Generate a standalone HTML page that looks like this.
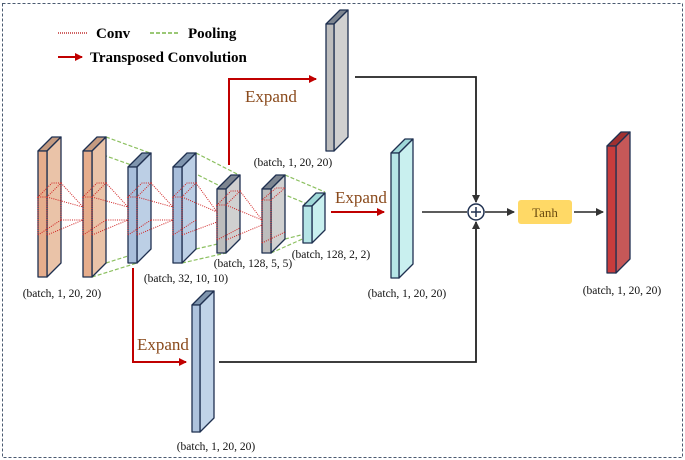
<!DOCTYPE html>
<html><head><meta charset="utf-8"><style>
body{margin:0;background:#fff;}
svg{display:block;font-family:"Liberation Serif",serif;}
</style></head><body>
<svg width="685" height="460" viewBox="0 0 685 460" xmlns="http://www.w3.org/2000/svg">
<defs>
<marker id="ar" markerWidth="8" markerHeight="8" refX="7" refY="4" orient="auto" markerUnits="userSpaceOnUse"><path d="M0,0 L8,4 L0,8 z" fill="#c00000"/></marker>
<marker id="ak" markerWidth="8" markerHeight="8" refX="7" refY="4" orient="auto" markerUnits="userSpaceOnUse"><path d="M0,0 L8,4 L0,8 z" fill="#333"/></marker>
</defs>
<rect x="2.5" y="3.5" width="680" height="454" fill="none" stroke="#4a5a70" stroke-width="1" stroke-dasharray="3,2"/>

<!-- legend -->
<line x1="58" y1="33" x2="88" y2="33" stroke="#c03030" stroke-width="1.5" stroke-dasharray="1,1"/>
<text x="96" y="38" font-size="15" font-weight="bold">Conv</text>
<line x1="150" y1="33" x2="180" y2="33" stroke="#7ab648" stroke-width="1.5" stroke-dasharray="4,2"/>
<text x="188" y="38" font-size="15" font-weight="bold">Pooling</text>
<line x1="58" y1="57" x2="82" y2="57" stroke="#c00000" stroke-width="2" marker-end="url(#ar)"/>
<text x="90" y="62" font-size="15" font-weight="bold">Transposed Convolution</text>

<!-- pooling dashed -->
<g stroke="#8cc060" stroke-width="1.2" stroke-dasharray="4,2" fill="none">
<line x1="106" y1="137" x2="150" y2="153"/><line x1="92" y1="151" x2="137" y2="167"/>
<line x1="92" y1="277" x2="137" y2="263"/><line x1="106" y1="263" x2="150" y2="249"/>
<line x1="196" y1="153" x2="239" y2="175"/><line x1="182" y1="167" x2="226" y2="189"/>
<line x1="182" y1="263" x2="226" y2="253"/><line x1="196" y1="249" x2="239" y2="239"/>
<line x1="285" y1="175" x2="325" y2="192"/><line x1="271" y1="189" x2="312" y2="206"/>
<line x1="271" y1="253" x2="325" y2="229"/><line x1="285" y1="239" x2="325" y2="229"/>
</g>

<!-- boxes -->
<g stroke="#1f3050" stroke-width="1.3" stroke-linejoin="round">
<!-- orange 1 -->
<polygon points="38,151 52,137 61,137 47,151" fill="#c49a80"/>
<polygon points="47,151 61,137 61,263 47,277" fill="#eac3a8"/>
<rect x="38" y="151" width="9" height="126" fill="#e6ad8c"/>
<!-- orange 2 -->
<polygon points="83,151 97,137 106,137 92,151" fill="#c49a80"/>
<polygon points="92,151 106,137 106,263 92,277" fill="#eac3a8"/>
<rect x="83" y="151" width="9" height="126" fill="#e6ad8c"/>
<!-- blue 1 -->
<polygon points="128,167 142,153 151,153 137,167" fill="#7f95ae"/>
<polygon points="137,167 151,153 151,249 137,263" fill="#bccfe5"/>
<rect x="128" y="167" width="9" height="96" fill="#a8bedb"/>
<!-- blue 2 -->
<polygon points="173,167 187,153 196,153 182,167" fill="#7f95ae"/>
<polygon points="182,167 196,153 196,249 182,263" fill="#bccfe5"/>
<rect x="173" y="167" width="9" height="96" fill="#a8bedb"/>
<!-- gray 1 -->
<polygon points="217,189 231,175 240,175 226,189" fill="#7d8590"/>
<polygon points="226,189 240,175 240,239 226,253" fill="#d0d0d0"/>
<rect x="217" y="189" width="9" height="64" fill="#bdbdbd"/>
<!-- gray 2 -->
<polygon points="262,189 276,175 285,175 271,189" fill="#7d8590"/>
<polygon points="271,189 285,175 285,239 271,253" fill="#d0d0d0"/>
<rect x="262" y="189" width="9" height="64" fill="#bdbdbd"/>
<!-- cyan small -->
<polygon points="303,206 316,193 325,193 312,206" fill="#9fd8d8"/>
<polygon points="312,206 325,193 325,230 312,243" fill="#c9f0ef"/>
<rect x="303" y="206" width="9" height="37" fill="#b5e5e6"/>
<!-- gray tall -->
<polygon points="326,24 340,10 348,10 334,24" fill="#7d8590"/>
<polygon points="334,24 348,10 348,137 334,151" fill="#d0d0d0"/>
<rect x="326" y="24" width="8" height="127" fill="#bdbdbd"/>
<!-- cyan tall -->
<polygon points="391,153 405,139 413,139 399,153" fill="#9fd8d8"/>
<polygon points="399,153 413,139 413,264 399,278" fill="#c9f0ef"/>
<rect x="391" y="153" width="8" height="125" fill="#b5e5e6"/>
<!-- red -->
<polygon points="607,146 621,132 630,132 616,146" fill="#a03030"/>
<polygon points="616,146 630,132 630,259 616,273" fill="#c65858"/>
<rect x="607" y="146" width="9" height="127" fill="#c83c3c"/>
<!-- blue bottom -->
<polygon points="192,305 206,291 214,291 200,305" fill="#7f95ae"/>
<polygon points="200,305 214,291 214,418 200,432" fill="#c0d3e8"/>
<rect x="192" y="305" width="8" height="127" fill="#aec3dd"/>
</g>

<!-- conv dotted -->
<g stroke="#d02020" stroke-width="1" stroke-dasharray="1,1.2" fill="none">
<polygon points="38,197 47,197 61,183 52,183"/><line x1="38" y1="197" x2="38" y2="235"/><line x1="47" y1="197" x2="47" y2="235"/><line x1="61" y1="183" x2="61" y2="220"/><line x1="38" y1="235" x2="61" y2="220"/>
<line x1="47" y1="197" x2="83" y2="207"/><line x1="61" y1="183" x2="83" y2="207"/><line x1="47" y1="235" x2="83" y2="220"/><line x1="61" y1="220" x2="83" y2="220"/>
<polygon points="83,197 92,197 106,183 97,183"/><line x1="83" y1="197" x2="83" y2="235"/><line x1="92" y1="197" x2="92" y2="235"/><line x1="83" y1="235" x2="106" y2="220"/>
<line x1="92" y1="197" x2="128" y2="207"/><line x1="106" y1="183" x2="128" y2="207"/><line x1="92" y1="235" x2="128" y2="220"/><line x1="106" y1="220" x2="128" y2="220"/>
<polygon points="128,197 137,197 151,183 142,183"/><line x1="128" y1="197" x2="128" y2="235"/><line x1="137" y1="197" x2="137" y2="235"/><line x1="128" y1="235" x2="151" y2="220"/>
<line x1="137" y1="197" x2="173" y2="207"/><line x1="151" y1="183" x2="173" y2="207"/><line x1="137" y1="235" x2="173" y2="220"/><line x1="151" y1="220" x2="173" y2="220"/>
<polygon points="173,197 182,197 196,183 187,183"/><line x1="173" y1="197" x2="173" y2="235"/><line x1="182" y1="197" x2="182" y2="235"/><line x1="173" y1="235" x2="196" y2="220"/>
<line x1="182" y1="197" x2="217" y2="212"/><line x1="196" y1="183" x2="217" y2="212"/><line x1="182" y1="235" x2="217" y2="222"/>
<polygon points="217,205 226,205 240,191 231,191"/><line x1="217" y1="205" x2="217" y2="240"/><line x1="217" y1="240" x2="240" y2="228"/>
<line x1="226" y1="205" x2="262" y2="220"/><line x1="240" y1="191" x2="262" y2="220"/><line x1="226" y1="240" x2="262" y2="225"/>
<polygon points="262,200 271,200 285,188 276,188"/><line x1="262" y1="200" x2="262" y2="243"/><line x1="271" y1="200" x2="271" y2="243"/><line x1="262" y1="243" x2="285" y2="232"/>
</g>

<!-- red expand arrows -->
<g stroke="#c00000" stroke-width="2" fill="none">
<polyline points="229,165 229,79 316,79" marker-end="url(#ar)"/>
<line x1="331" y1="212" x2="384" y2="212" marker-end="url(#ar)"/>
<polyline points="133,268 133,362 186,362" marker-end="url(#ar)"/>
</g>
<g fill="#8a4a1c" font-size="17">
<text x="245" y="102">Expand</text>
<text x="335" y="203">Expand</text>
<text x="137" y="350">Expand</text>
</g>

<!-- black connectors -->
<g stroke="#222" stroke-width="1.8" fill="none">
<polyline points="355,77 476,77 476,202" marker-end="url(#ak)"/>
<polyline points="219,362 476,362 476,222" marker-end="url(#ak)"/>
<line x1="422" y1="212" x2="467" y2="212" stroke="#444"/>
<line x1="485" y1="212" x2="514" y2="212" stroke="#444" marker-end="url(#ak)"/>
<line x1="574" y1="212" x2="603" y2="212" stroke="#444" marker-end="url(#ak)"/>
</g>
<circle cx="476" cy="212" r="8" fill="#fff" stroke="#1f3050" stroke-width="1.5"/>
<line x1="471" y1="212" x2="481" y2="212" stroke="#1f3050" stroke-width="1.5"/>
<line x1="476" y1="207" x2="476" y2="217" stroke="#1f3050" stroke-width="1.5"/>

<rect x="518" y="200" width="54" height="24" rx="3" fill="#ffd966"/>
<text x="545" y="217" font-size="13" text-anchor="middle" fill="#6a4a10">Tanh</text>

<!-- labels -->
<g font-size="11.5" text-anchor="middle" fill="#111">
<text x="62" y="297">(batch, 1, 20, 20)</text>
<text x="186" y="282">(batch, 32, 10, 10)</text>
<text x="253" y="267">(batch, 128, 5, 5)</text>
<text x="331" y="258">(batch, 128, 2, 2)</text>
<text x="293" y="166">(batch, 1, 20, 20)</text>
<text x="407" y="297">(batch, 1, 20, 20)</text>
<text x="622" y="294">(batch, 1, 20, 20)</text>
<text x="216" y="450">(batch, 1, 20, 20)</text>
</g>
</svg>
</body></html>
